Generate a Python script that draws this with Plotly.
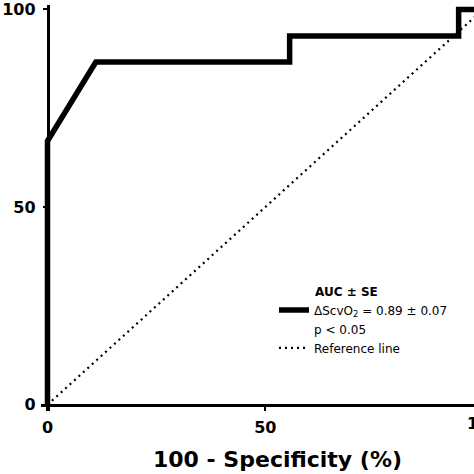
import plotly.graph_objects as go

# ROC curve (100 - specificity vs sensitivity)
fpr = [0, 0, 11.1, 55.6, 55.6, 94.4, 94.4, 100]
tpr = [0, 66.7, 86.7, 86.7, 93.3, 93.3, 100, 100]
ref_x = [0, 100]
ref_y = [0, 100]
tick_vals = [0, 50, 100]
tick_text = ["0", "50", "100"]

W = 474
font_family = "DejaVu Sans, Liberation Sans, Arial, sans-serif"

# axis geometry (pixels in the 474x474 picture)
x0_px, y0_px = 47.5, 407.5
x_dom = [41 / W, 1]
x_rng = [-1.49, 97.93]
y_dom = [(W - 413.5) / W, 1]
y_rng = [-1.49, 101.12]

fig = go.Figure()

fig.add_trace(go.Scatter(x=fpr, y=tpr, mode="lines",
                         name="\u0394ScvO<sub>2</sub> = 0.89 \u00b1 0.07",
                         line=dict(color="black", width=5.5, shape="linear")))
fig.add_trace(go.Scatter(x=[None], y=[None], mode="lines", name="p < 0.05",
                         line=dict(color="rgba(0,0,0,0)", width=0)))
fig.add_trace(go.Scatter(x=ref_x, y=ref_y, mode="lines", name="Reference line",
                         line=dict(color="black", width=2.2, dash="2px,4px")))

tick_font = dict(family=font_family, size=16, color="black", weight="bold")

axis_common = dict(showgrid=False, zeroline=False, showline=True,
                   linecolor="black", linewidth=2.5,
                   ticks="outside", ticklen=4, tickwidth=2, tickcolor="black",
                   tickvals=tick_vals, ticktext=tick_text,
                   ticklabeloverflow="allow", tickfont=tick_font)

fig.update_layout(
    width=W, height=W,
    margin=dict(l=0, r=0, t=0, b=0),
    plot_bgcolor="white", paper_bgcolor="white",
    font=dict(family=font_family, color="black"),
    xaxis=dict(domain=x_dom, range=x_rng, anchor="free",
               position=(W - y0_px) / W, ticklabelstandoff=3, **axis_common),
    yaxis=dict(domain=y_dom, range=y_rng, anchor="free",
               position=x0_px / W, ticklabelstandoff=4, **axis_common),
    legend=dict(x=274 / W, y=(W - 296) / W, xanchor="left", yanchor="top",
                bgcolor="rgba(0,0,0,0)", tracegroupgap=0,
                font=dict(family=font_family, size=12, color="black")),
    showlegend=True,
)

# "100" tick on the x axis falls just past the right edge of the picture
x100 = x_dom[0] + (100 - x_rng[0]) / (x_rng[1] - x_rng[0]) * (x_dom[1] - x_dom[0])
fig.add_annotation(x=x100, y=(W - y0_px) / W, xref="paper", yref="paper",
                   text="100", showarrow=False, xanchor="center", yanchor="top",
                   yshift=-7, font=tick_font)

fig.add_annotation(x=313 / W, y=(W - 293) / W, xref="paper", yref="paper",
                   text="<b>AUC \u00b1 SE</b>", showarrow=False,
                   xanchor="left", yanchor="middle",
                   font=dict(family=font_family, size=12, color="black"))

fig.add_annotation(x=277 / W, y=(W - 463) / W, xref="paper", yref="paper",
                   text="<b>100 - Specificity (%)</b>", showarrow=False,
                   xanchor="center", yanchor="middle",
                   font=dict(family=font_family, size=22, color="black"))

# page body has a default 8px margin; drop it so the figure fills the window
fig.write_html("out.html", config={"displayModeBar": False},
               post_script="document.body.style.margin='0';")
